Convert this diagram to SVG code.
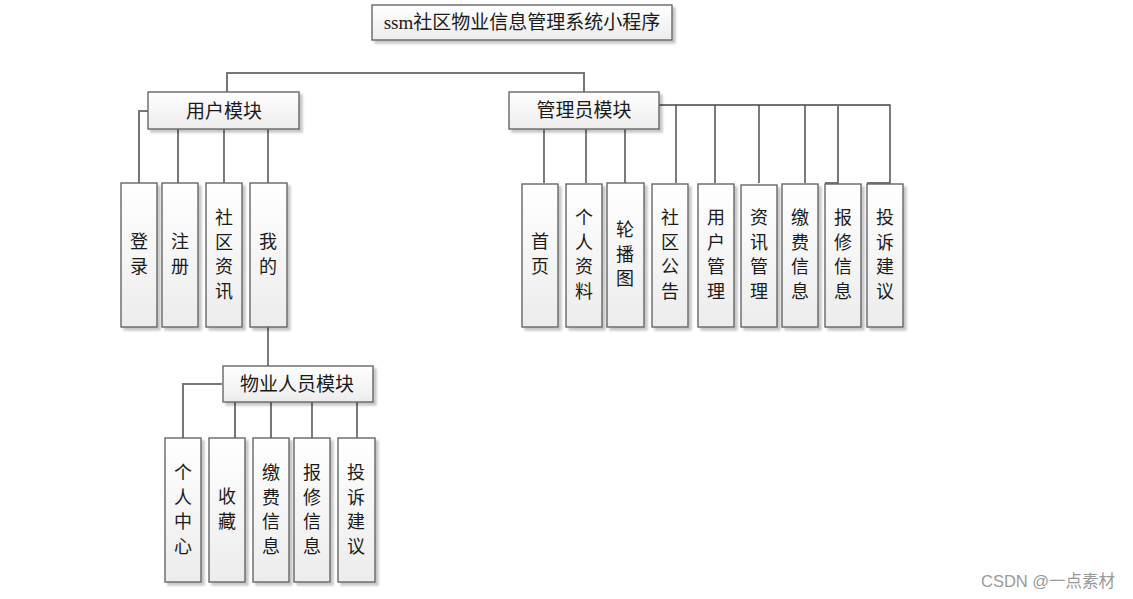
<svg xmlns="http://www.w3.org/2000/svg" width="1133" height="599" viewBox="0 0 1133 599">
<defs>
<linearGradient id="g" x1="0" y1="0" x2="0" y2="1">
<stop offset="0" stop-color="#ffffff"/>
<stop offset="1" stop-color="#ececec"/>
</linearGradient>
<filter id="sh" x="-20%" y="-20%" width="140%" height="140%">
<feDropShadow dx="3" dy="3" stdDeviation="1" flood-color="#000" flood-opacity="0.22"/>
</filter>
</defs>
<style>
.box{fill:url(#g);stroke:#666;stroke-width:1.4;filter:url(#sh)}
.t{font-family:"Liberation Serif","Noto Sans CJK SC",serif;font-size:19px;fill:#1a1a1a;text-anchor:middle}
.l{font-family:"Noto Sans CJK SC",sans-serif;font-size:18px;fill:#1a1a1a;text-anchor:middle}
.c{fill:none;stroke:#444;stroke-width:1.4}
.c2{fill:none;stroke:#777;stroke-width:2}
.wm{font-family:"Liberation Sans","Noto Sans CJK SC",sans-serif;font-size:16.5px;fill:#999}
</style>
<rect width="1133" height="599" fill="#fff"/>

<g id="connectors">
<path class="c2" d="M227 92 V73 H584 V92"/>
<path class="c2" d="M148 111 H139 V183"/>
<path class="c2" d="M178 129 V183"/>
<path class="c" d="M224 129 V183"/>
<path class="c" d="M268 129 V183"/>
<path class="c" d="M268 327 V366"/>
<path class="c2" d="M222 384 H183 V438"/>
<path class="c2" d="M235 402 V438"/>
<path class="c2" d="M271 402 V438"/>
<path class="c" d="M312 402 V438"/>
<path class="c" d="M357 402 V438"/>
<path class="c" d="M544 129 V183"/>
<path class="c" d="M586 129 V183"/>
<path class="c" d="M625 129 V183"/>
<path class="c" d="M659 105 H890 V183 H867"/>
<path class="c" d="M676 105 V183"/>
<path class="c" d="M715 105 V183"/>
<path class="c" d="M759 105 V183"/>
<path class="c" d="M805 105 V183"/>
<path class="c2" d="M838 105 V183 H825"/>
</g>

<g id="title">
<rect class="box" x="372" y="5" width="300" height="35"/>
<text class="t" x="522" y="29" style="font-size:19px">ssm社区物业信息管理系统小程序</text>
</g>

<g id="user-module">
<rect class="box" x="148" y="92" width="151" height="37"/>
<text class="t" x="224" y="118">用户模块</text>
</g>

<g id="admin-module">
<rect class="box" x="509" y="92" width="150" height="37"/>
<text class="t" x="584" y="117">管理员模块</text>
</g>

<g id="property-module">
<rect class="box" x="223" y="366" width="150" height="36"/>
<text class="t" x="297" y="391">物业人员模块</text>
</g>

<g id="u-login">
<rect class="box" x="121" y="183" width="36" height="144"/>
<text class="l" x="139" y="248">登<tspan x="139" dy="24.5">录</tspan></text>
</g>
<g id="u-register">
<rect class="box" x="162" y="183" width="36" height="144"/>
<text class="l" x="180" y="248">注<tspan x="180" dy="24.5">册</tspan></text>
</g>
<g id="u-news">
<rect class="box" x="206" y="183" width="36" height="144"/>
<text class="l" x="224" y="224">社<tspan x="224" dy="24.5">区</tspan><tspan x="224" dy="24.5">资</tspan><tspan x="224" dy="24.5">讯</tspan></text>
</g>
<g id="u-mine">
<rect class="box" x="250" y="183" width="37" height="144"/>
<text class="l" x="268" y="248">我<tspan x="268" dy="24.5">的</tspan></text>
</g>

<g id="a-home">
<rect class="box" x="522" y="184" width="36" height="143"/>
<text class="l" x="540" y="248">首<tspan x="540" dy="24.5">页</tspan></text>
</g>
<g id="a-profile">
<rect class="box" x="566" y="184" width="36" height="143"/>
<text class="l" x="584" y="224">个<tspan x="584" dy="24.5">人</tspan><tspan x="584" dy="24.5">资</tspan><tspan x="584" dy="24.5">料</tspan></text>
</g>
<g id="a-carousel">
<rect class="box" x="607" y="183" width="37" height="144"/>
<text class="l" x="625" y="236">轮<tspan x="625" dy="24.5">播</tspan><tspan x="625" dy="24.5">图</tspan></text>
</g>
<g id="a-notice">
<rect class="box" x="652" y="184" width="36" height="143"/>
<text class="l" x="670" y="224">社<tspan x="670" dy="24.5">区</tspan><tspan x="670" dy="24.5">公</tspan><tspan x="670" dy="24.5">告</tspan></text>
</g>
<g id="a-users">
<rect class="box" x="698" y="184" width="36" height="143"/>
<text class="l" x="716" y="224">用<tspan x="716" dy="24.5">户</tspan><tspan x="716" dy="24.5">管</tspan><tspan x="716" dy="24.5">理</tspan></text>
</g>
<g id="a-news">
<rect class="box" x="741" y="185" width="36" height="142"/>
<text class="l" x="759" y="224">资<tspan x="759" dy="24.5">讯</tspan><tspan x="759" dy="24.5">管</tspan><tspan x="759" dy="24.5">理</tspan></text>
</g>
<g id="a-fee">
<rect class="box" x="782" y="184" width="36" height="143"/>
<text class="l" x="800" y="224">缴<tspan x="800" dy="24.5">费</tspan><tspan x="800" dy="24.5">信</tspan><tspan x="800" dy="24.5">息</tspan></text>
</g>
<g id="a-repair">
<rect class="box" x="825" y="184" width="36" height="143"/>
<text class="l" x="843" y="224">报<tspan x="843" dy="24.5">修</tspan><tspan x="843" dy="24.5">信</tspan><tspan x="843" dy="24.5">息</tspan></text>
</g>
<g id="a-complaint">
<rect class="box" x="867" y="184" width="36" height="143"/>
<text class="l" x="885" y="224">投<tspan x="885" dy="24.5">诉</tspan><tspan x="885" dy="24.5">建</tspan><tspan x="885" dy="24.5">议</tspan></text>
</g>

<g id="p-center">
<rect class="box" x="165" y="438" width="36" height="144"/>
<text class="l" x="183" y="479">个<tspan x="183" dy="24.5">人</tspan><tspan x="183" dy="24.5">中</tspan><tspan x="183" dy="24.5">心</tspan></text>
</g>
<g id="p-fav">
<rect class="box" x="209" y="438" width="36" height="144"/>
<text class="l" x="227" y="503">收<tspan x="227" dy="24.5">藏</tspan></text>
</g>
<g id="p-fee">
<rect class="box" x="253" y="438" width="36" height="144"/>
<text class="l" x="271" y="479">缴<tspan x="271" dy="24.5">费</tspan><tspan x="271" dy="24.5">信</tspan><tspan x="271" dy="24.5">息</tspan></text>
</g>
<g id="p-repair">
<rect class="box" x="294" y="438" width="36" height="144"/>
<text class="l" x="312" y="479">报<tspan x="312" dy="24.5">修</tspan><tspan x="312" dy="24.5">信</tspan><tspan x="312" dy="24.5">息</tspan></text>
</g>
<g id="p-complaint">
<rect class="box" x="338" y="438" width="37" height="144"/>
<text class="l" x="356" y="479">投<tspan x="356" dy="24.5">诉</tspan><tspan x="356" dy="24.5">建</tspan><tspan x="356" dy="24.5">议</tspan></text>
</g>

<text class="wm" x="981" y="587">CSDN @一点素材</text>
</svg>
